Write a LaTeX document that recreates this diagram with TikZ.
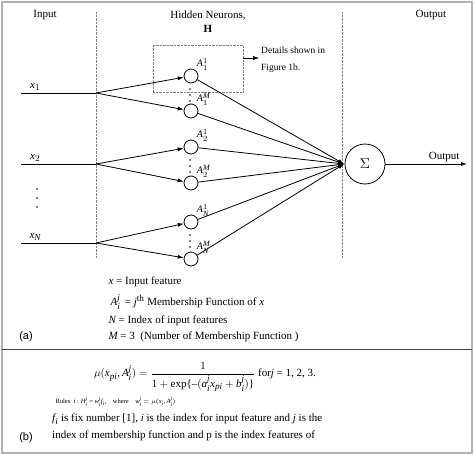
\documentclass[tikz,border=0pt]{standalone}
\usepackage{fontspec}
\setmainfont{Liberation Serif}
\setsansfont{Liberation Sans}
\usepackage[italic]{mathastext}
\usetikzlibrary{arrows.meta}
\tikzset{neuron/.style={draw,circle,minimum size=14pt,inner sep=0pt,line width=0.8pt},
 link/.style={line width=0.8pt,-{Latex[length=6pt,width=4pt]}},
 sepline/.style={densely dotted,gray,thin},
 alab/.style={inner sep=0.5pt,font=\fontsize{10}{10}\selectfont},
 dot/.style={circle,fill,inner sep=0pt,minimum size=1.8pt}}
\begin{document}
\begin{tikzpicture}[x=1pt,y=-1pt,font=\fontsize{11}{13}\selectfont]
 \useasboundingbox (0,0) rectangle (474,455);
 \draw[gray!60,line width=2.5pt](2,2) rectangle (472,453);
 \draw[black!75,line width=1.5pt](2,349.5)--(472,349.5);
 \node (hin) at (45,15) {Input};
 \node[align=center] (hhid) at (208,22) {Hidden Neurons,\\[1pt] \textbf{H}};
 \node (hout) at (431,15) {Output};
 \draw[sepline](96,12)--(96,258);
 \draw[sepline](342,12)--(342,258);
 \node[draw,densely dotted,gray,minimum width=90pt,minimum height=47pt,inner sep=0pt] (detbox) at (198,68.5) {};
 \node[anchor=north west,align=left,inner sep=0pt,font=\fontsize{9.5}{17}\selectfont] (dettxt) at (261,47) {Details shown in\\ Figure 1b.};
 \coordinate (detpt) at (243,58);
 \coordinate (detarr) at (259,58);
 \draw[link,line width=0.5pt](detpt)--(detarr);
 \node[draw,circle,line width=0.8pt,minimum size=40pt,inner sep=0pt,font=\fontsize{15}{15}\selectfont] (sum) at (365,164) {$\Sigma$};
 \coordinate (conv) at (344,164);
 \coordinate (outp) at (467,164);
 \draw[link](sum)--node[above,pos=0.72,inner sep=1.5pt]{Output}(outp);
 \foreach \i/\y/\ya/\yb in {1/93/76/111, 2/164/147/183, N/243/222/259}{
  \coordinate (in\i) at (21,\y);
  \coordinate (br\i) at (96,\y);
  \draw[line width=0.8pt](in\i)--node[above,pos=0.19,inner sep=2pt]{$x_{\i}$}(br\i);
  \node[neuron,label={[alab]45:$A_{\i}^{1}$}] (n\i-1) at (191,\ya) {};
  \node[neuron,label={[alab]45:$A_{\i}^{M}$}] (n\i-M) at (191,\yb) {};
  \foreach \k in {13,19,25}
   \node[dot] (d\i-\k) at (190,\ya+\k) {};
  \draw[link](br\i)--(n\i-1);
  \draw[link](br\i)--(n\i-M);
  \draw[link](n\i-1)--(conv);
  \draw[link](n\i-M)--(conv);
 }
 \foreach \k in {189,198,207}
  \node[dot] (xd\k) at (37,\k) {};
 \node[anchor=west] (lx) at (105,282) {$x$ = Input feature};
 \node[anchor=west] (lA) at (107,302) {$A_i^j$ \,= $j^{\mathrm{th}}$ Membership Function of $x$};
 \node[anchor=west] (lN) at (105,321) {$N$ = Index of input features};
 \node[anchor=west] (lM) at (105,337) {$M$ = 3 \ (Number of Membership Function )};
 \node[font=\sffamily\fontsize{11}{13}\selectfont] (la) at (26,337) {(a)};
 \node (fml) at (205,377) {$\displaystyle \mu(x_{pi},A_i^j)=\frac{1}{1+\exp\{-(a_i^j x_{pi}+b_i^j)\}}$ for$j$ = 1, 2, 3.};
 \node[anchor=west,font=\fontsize{6.5}{8}\selectfont] (rules) at (52,402) {Rules \ $i$ : $H_i^j$ = $w_i^j f_i$,\quad where\quad $w_i^j = \mu(x_i,A_i^j)$};
 \node[anchor=north west,align=left,inner sep=0pt,font=\fontsize{11}{17}\selectfont] (btxt) at (52,414) {$f_i$ is fix number [1], $i$ is the index for input feature and $j$ is the\\ index of membership function and p is the index features of};
 \node[font=\sffamily\fontsize{11}{13}\selectfont] (lb) at (26,438) {(b)};
\end{tikzpicture}
\end{document}
